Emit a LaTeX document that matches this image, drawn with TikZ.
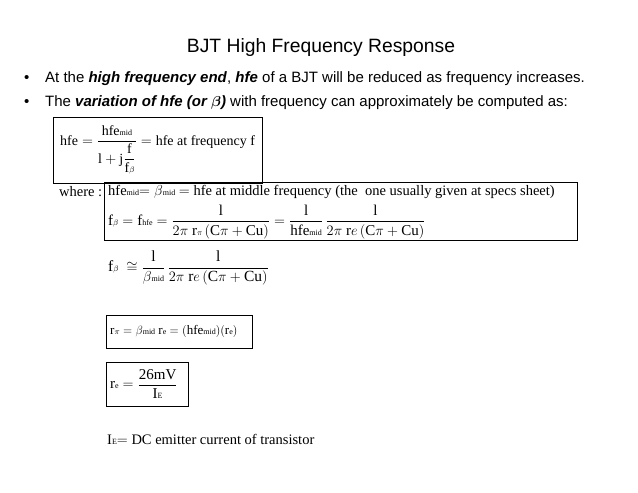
\documentclass[tikz,border=0pt]{standalone}
\usepackage{amsmath}
\usepackage[no-math]{fontspec}
\setmainfont{Liberation Serif}
\newfontfamily\hd{Liberation Sans}
\begin{document}
\begin{tikzpicture}[x=1pt,y=-1pt,
  txt/.style={anchor=west,inner sep=0pt,font=\fontsize{14.5}{17}\selectfont},
  btxt/.style={anchor=west,inner sep=0pt,font=\hd\fontsize{15}{17}\selectfont},
  fbox/.style={draw,line width=0.8pt}]
\useasboundingbox (0,0) rectangle (638,493);
\newcommand{\tx}[1]{\text{#1}}
\newcommand{\sm}[1]{\text{\fontsize{8}{9}\selectfont #1}}
\node[inner sep=0pt,font=\hd\fontsize{19.3}{22}\selectfont] (title) at (321,48) {BJT High Frequency Response};
\node[btxt] (d1) at (24,79) {•};
\node[btxt] (b1) at (45,79) {At the \textbf{\textit{high frequency end}}, \textbf{\textit{hfe}} of a BJT will be reduced as frequency increases.};
\node[btxt] (d2) at (24,103) {•};
\node[btxt] (b2) at (45,103) {The \textbf{\textit{variation of hfe (or $\boldsymbol\beta$)}} with frequency can approximately be computed as:};
\draw[fbox] (53,117) rectangle (262,183);
\node[txt,font=\fontsize{14}{16}\selectfont] (e1) at (60,150) {$\tx{hfe}=\dfrac{\tx{hfe}\sm{mid}}{\tx{l}+\tx{j}\dfrac{\tx{f}}{\tx{f}\sm{$\beta$}}}=\tx{hfe at frequency f}$};
\node[txt] (where) at (59,192) {where :};
\draw[fbox] (104,182) rectangle (577,240);
\node[txt] (e2) at (108,192) {hfe\sm{mid}$=\beta$\sm{mid} $=$ hfe at middle frequency (the\ \ one usually given at specs sheet)};
\node[txt,font=\fontsize{15}{17}\selectfont] (e3) at (108,222) {$\tx{f}\sm{$\beta$}=\tx{f}\sm{hfe}=\dfrac{\tx{l}}{2\pi\ \tx{r}\sm{$\pi$}\left(\tx{C}\pi+\tx{Cu}\right)}=\dfrac{\tx{l}}{\tx{hfe}\sm{mid}}\,\dfrac{\tx{l}}{2\pi\ \tx{r}e\left(\tx{C}\pi+\tx{Cu}\right)}$};
\node[txt,font=\fontsize{15.5}{17}\selectfont] (e4) at (108,268) {$\tx{f}\sm{$\beta$}\ \cong\dfrac{\tx{l}}{\beta\sm{mid}}\,\dfrac{\tx{l}}{2\pi\ \tx{r}e\left(\tx{C}\pi+\tx{Cu}\right)}$};
\draw[fbox] (106,315) rectangle (252,348);
\node[txt,font=\fontsize{13}{15}\selectfont] (e5) at (110,331) {$\tx{r}\sm{$\pi$}=\beta\sm{mid}\ \tx{r}\sm{e}=(\tx{hfe}\sm{mid})(\tx{r}\sm{e})$};
\draw[fbox] (106,362) rectangle (188,406);
\node[txt,font=\fontsize{15}{17}\selectfont] (e6) at (110,384) {$\tx{r}\sm{e}=\dfrac{\tx{26mV}}{\tx{I}\sm{E}}$};
\node[txt] (e7) at (107,439) {I\sm{E}$=$ DC emitter current of transistor};
\end{tikzpicture}
\end{document}
